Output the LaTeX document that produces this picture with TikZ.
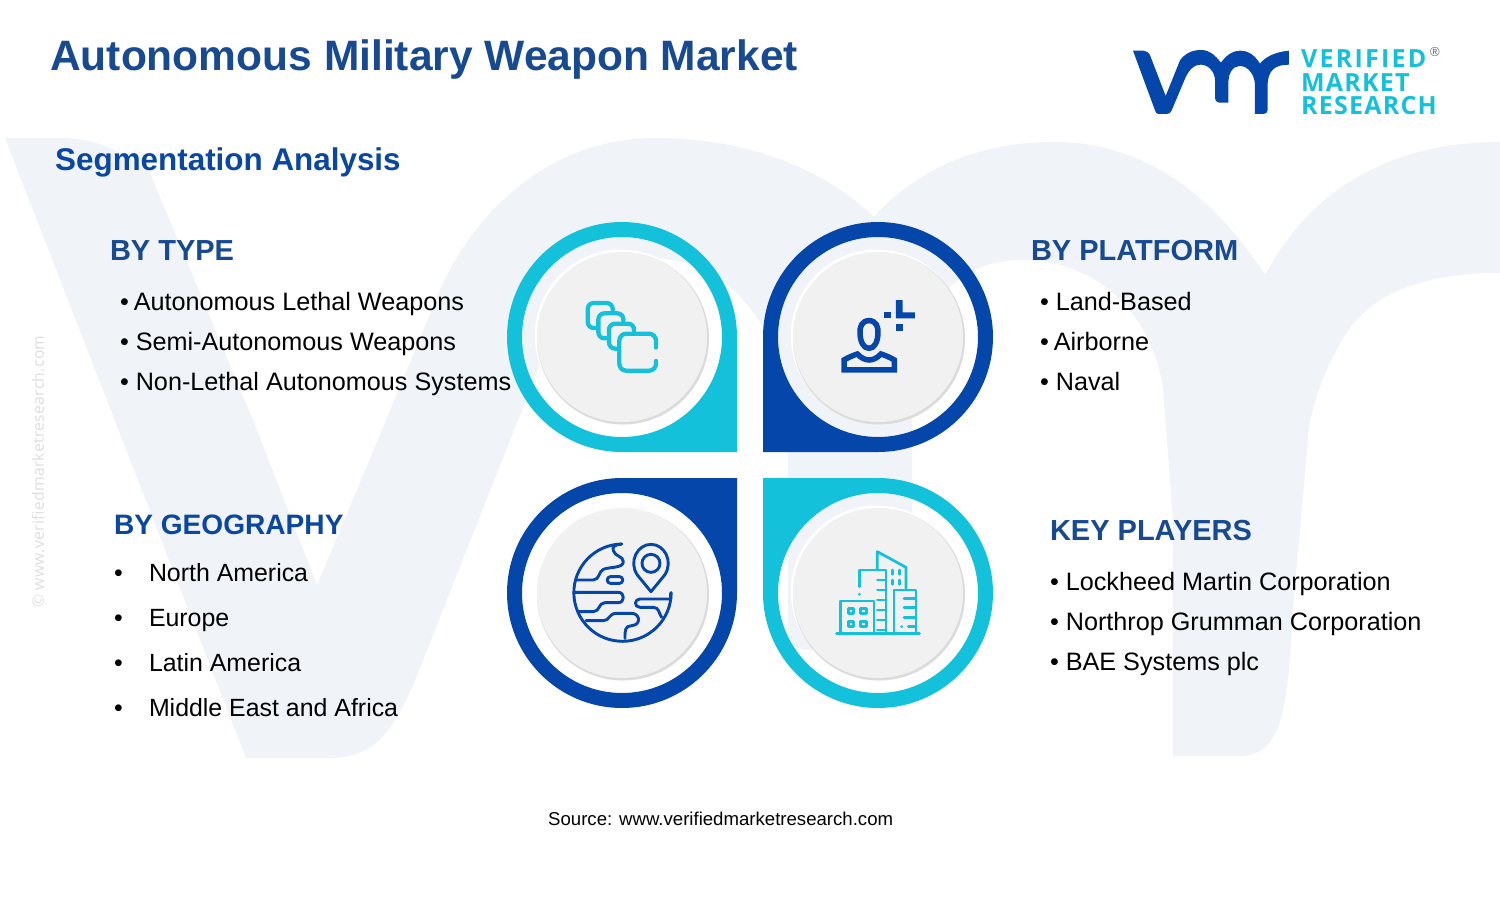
\documentclass[tikz,border=0pt]{standalone}
\usepackage{fontspec}
\setmainfont{Liberation Sans}
\newfontfamily\logofont[LetterSpace=5]{Open Sans}
\newfontfamily\logofontw[LetterSpace=9]{Open Sans}
\newfontfamily\sidefont[LetterSpace=2]{Open Sans}
\definecolor{wmark}{HTML}{F0F4F9}
\definecolor{vblue}{HTML}{0446AA}
\definecolor{vcyan}{HTML}{14C1DA}
\definecolor{tblue}{HTML}{174A91}
\definecolor{sblue}{HTML}{0A47A3}
\definecolor{discg}{HTML}{F1F1F1}
\newcommand{\fsz}[1]{\fontsize{#1}{#1}\selectfont}
\tikzset{
  lbl/.style={anchor=base west,inner sep=0pt,outer sep=0pt,text=black,font=\fsz{25.2}},
  lblg/.style={anchor=base west,inner sep=0pt,outer sep=0pt,text=black,font=\fsz{24.9}},
  head/.style={anchor=base west,inner sep=0pt,outer sep=0pt,text=tblue,font=\bfseries\fsz{29}},
  logotxt/.style={anchor=base west,inner sep=0pt,outer sep=0pt,text=vcyan,font=\logofont\bfseries\fsz{25}},
  iconline/.style={line width=#1,line cap=round,line join=round,fill=none},
  iconline/.default=2.7pt
}
\newcommand{\vmrlogo}{(24,26) -- (55,26) .. controls (65,26) and (72,32) .. (76,42) -- (122,162) -- (165,55)
  .. controls (180,35) and (200,24) .. (228,24) .. controls (255,24) and (270,40) .. (288,62)
  .. controls (305,38) and (325,26) .. (345,26) .. controls (370,26) and (390,40) .. (405,65)
  .. controls (420,45) and (450,30) .. (492,26) -- (492,68) .. controls (450,68) and (428,85) .. (428,130)
  -- (428,205) .. controls (428,212) and (422,216) .. (415,216) -- (390,216) -- (390,130)
  .. controls (390,100) and (370,72) .. (345,72) .. controls (325,72) and (310,90) .. (310,125)
  -- (310,182) -- (285,182) .. controls (275,182) and (270,175) .. (270,165) -- (270,115)
  .. controls (270,90) and (250,68) .. (228,68) .. controls (205,68) and (190,85) .. (178,115)
  -- (140,205) .. controls (137,212) and (133,216) .. (125,216) -- (100,216)
  .. controls (95,216) and (92,212) .. (90,205) -- cycle}
\newcommand{\graydisc}[2]{%
  \fill[white] (#1-1.2,#2-1.5) circle[radius=86];
  \fill[black!14] (#1+1,#2+1.5) circle[radius=86];
  \fill[discg] (#1,#2) circle[radius=85];}
\begin{document}
\begin{tikzpicture}[x=1pt,y=-1pt]
\useasboundingbox (0,0) rectangle (1500,911);
\fill[white] (0,0) rectangle (1500,911);
% watermark
\fill[wmark] (5,138) -- (60,138) .. controls (105,138) and (135,160) .. (150,173)
  -- (257,430) -- (317,585) -- (382,430) -- (440,290) .. controls (480,200) and (560,138) .. (654,138)
  .. controls (750,138) and (825,170) .. (874,217) .. controls (920,165) and (985,142) .. (1054,142)
  .. controls (1140,142) and (1210,190) .. (1265,275) .. controls (1310,190) and (1390,142) .. (1500,142)
  -- (1500,273) .. controls (1420,273) and (1370,295) .. (1345,335) .. controls (1320,375) and (1308,420) .. (1308,440)
  -- (1293,607) .. controls (1288,700) and (1285,756) .. (1240,756) -- (1173,756) -- (1173,520) -- (1163,387)
  .. controls (1150,310) and (1095,260) .. (1021,260) .. controls (955,260) and (912,310) .. (912,395)
  -- (912,630) .. controls (912,645) and (905,650) .. (895,650) -- (810,650) .. controls (795,650) and (788,645) .. (788,630)
  -- (788,420) .. controls (785,330) and (730,258) .. (650,258) .. controls (590,258) and (555,320) .. (537,372)
  -- (418,673) .. controls (395,730) and (375,758) .. (330,758) -- (246,758) -- cycle;
% side text
\node[rotate=90,inner sep=0pt,text=black!13,font=\sidefont\fsz{15.7}] (sidetext) at (38,471.5) {© www.verifiedmarketresearch.com};
% titles
\node[anchor=base west,inner sep=0pt,text=tblue,font=\bfseries\fsz{42.5}] (title) at (50,70) {Autonomous Military Weapon Market};
\node[anchor=base west,inner sep=0pt,text=sblue,font=\bfseries\fsz{31.4}] (seg) at (55,170) {Segmentation Analysis};
% logo
\begin{scope}[shift={(1125,42)},x=0.3333pt,y=-0.3333pt]
\fill[vblue] \vmrlogo;
\end{scope}
\node[logotxt,font=\logofontw\bfseries\fsz{25}] (lg1) at (1301,67) {VERIFIED};
\node[logotxt] (lg2) at (1301,91.5) {MARKET};
\node[logotxt] (lg3) at (1301,114.5) {RESEARCH};
\node[anchor=base west,inner sep=0pt,text=black!60,font=\fsz{13}] (lgr) at (1430,56) {®};
% pins
\fill[vcyan,even odd rule] (737,452) -- (622,452) arc[start angle=90,end angle=360,radius=115] -- cycle (622,337) circle[radius=100];
\fill[vblue,even odd rule] (763,452) -- (878,452) arc[start angle=90,end angle=-180,radius=115] -- cycle (878,337) circle[radius=100];
\fill[vblue,even odd rule] (737,478) -- (622,478) arc[start angle=270,end angle=0,radius=115] -- cycle (622,593) circle[radius=100];
\fill[vcyan,even odd rule] (763,478) -- (878,478) arc[start angle=-90,end angle=180,radius=115] -- cycle (878,593) circle[radius=100];
\graydisc{622}{337}
\graydisc{878}{337}
\graydisc{622}{593}
\graydisc{878}{593}
% icon 1: stacked squares
\begin{scope}[vcyan,iconline=4.3pt,rounded corners=6pt]
\foreach \k in {0,1,2}{
  \pgfmathsetmacro{\xa}{587.7+10.67*\k}
  \pgfmathsetmacro{\ya}{303+10.33*\k}
  \draw (\xa+9,\ya+25) -- (\xa,\ya+25) -- (\xa,\ya) -- (\xa+25,\ya) -- (\xa+25,\ya+7);
}
\draw[rounded corners=7pt] (656,347.5) -- (656,333.7) -- (619.3,333.7) -- (619.3,370.7) -- (656,370.7) -- (656,361);
\end{scope}
% icon 2: person
\begin{scope}[shift={(800,280)},x=0.3333pt,y=-0.3333pt]
\draw[vblue,iconline=5.5pt] (207,122) .. controls (185,122) and (179,140) .. (180,160) .. controls (181,185) and (190,205) .. (207,205) .. controls (224,205) and (233,185) .. (234,160) .. controls (235,140) and (229,122) .. (207,122) -- cycle;
\draw[vblue,iconline=5.5pt,line cap=butt,line join=miter] (132,270) -- (132,240) .. controls (145,232) and (160,226) .. (172,222) .. controls (195,246) and (220,246) .. (243,222) .. controls (255,226) and (270,232) .. (283,240) -- (283,270) -- cycle;
\fill[vblue] (288,60) -- (308,60) -- (308,97) -- (345,97) -- (345,115) -- (288,115) -- cycle;
\fill[vblue] (252,97) rectangle (272,115);
\fill[vblue] (288,133) rectangle (308,152);
\end{scope}
% icon 3: globe and pin
\begin{scope}[shift={(560,530)},x=0.3333pt,y=-0.3333pt]
\begin{scope}[vblue,iconline=2.9pt]
\draw (185,42) arc[start angle=-91,end angle=-270,radius=146] arc[start angle=90,end angle=0,radius=146] -- (332,190);
\draw (185,42) .. controls (165,44) and (155,50) .. (160,62) .. controls (165,80) and (190,78) .. (190,95) .. controls (190,115) and (150,110) .. (130,118) .. controls (115,125) and (120,148) .. (100,150) -- (48,150);
\draw[rounded corners=3pt] (142,140) rectangle (188,160);
\draw (42,187) -- (175,187) .. controls (195,187) and (195,218) .. (175,218) -- (135,218) .. controls (115,218) and (120,245) .. (100,245) -- (55,245);
\draw (78,272) -- (130,272) .. controls (150,272) and (145,250) .. (170,250) -- (215,250) .. controls (240,250) and (245,285) .. (215,287) .. controls (195,288) and (195,300) .. (195,325);
\draw (332,190) -- (332,207) -- (240,207) .. controls (222,207) and (222,232) .. (240,232) -- (280,232) .. controls (298,232) and (296,250) .. (305,262);
\draw (273,185) -- (232,135) .. controls (205,95) and (232,43) .. (273,43) .. controls (314,43) and (341,95) .. (314,135) -- cycle;
\draw (273,100) circle[radius=27];
\end{scope}
\end{scope}
% icon 4: buildings
\begin{scope}[shift={(820,535)},x=0.3333pt,y=-0.3333pt]
\begin{scope}[vcyan,iconline=2.7pt]
\draw[line width=3pt] (50,296) -- (298,296);
\draw (62,296) -- (62,198) -- (162,198) -- (162,296);
\draw (118,155) -- (118,105) -- (198,105) -- (198,296);
\draw (172,105) -- (172,50) -- (258,97) -- (258,160);
\draw (222,296) -- (222,165) -- (288,165) -- (288,296);
\foreach \y in {135,165,195,225,255,285} \draw (172,\y) -- (198,\y);
\foreach \y in {190,218,247} \draw (252,\y) -- (288,\y);
\draw (265,275) -- (288,275);
\foreach \x/\y in {92/228,130/228,92/268,130/268} \draw[line width=3pt] (\x-8,\y-8) rectangle (\x+8,\y+8);
\foreach \x in {218,238} {\draw (\x,105) -- (\x,118); \draw (\x,135) -- (\x,148);}
\fill (118,178) circle[radius=4.5];
\fill (245,275) circle[radius=4.5];
\end{scope}
\end{scope}
% text blocks
\node[head] (h1) at (110,260) {BY TYPE};
\node[lbl] (t1) at (120,310) {• \kern-2ptAutonomous Lethal Weapons};
\node[lbl] (t2) at (120,350) {• Semi-Autonomous Weapons};
\node[lbl] (t3) at (120,390) {• Non-Lethal Autonomous Systems};
\node[head] (h2) at (1031,260) {BY PLATFORM};
\node[lbl] (p1) at (1040,310) {• Land-Based};
\node[lbl] (p2) at (1040,350) {• \kern-2ptAirborne};
\node[lbl] (p3) at (1040,390) {• Naval};
\node[head,text=sblue,font=\bfseries\fsz{28.1}] (h3) at (114,534) {BY GEOGRAPHY};
\foreach \n/\y/\s in {a/581/North America,b/626/Europe,c/671/Latin America,d/716/Middle East and Africa}{
  \node[lblg] (gb\n) at (114,\y) {•};
  \node[lblg] (g\n) at (149,\y) {\s};
}
\node[head] (h4) at (1050,540) {KEY PLAYERS};
\node[lbl] (k1) at (1050,590) {• Lockheed Martin Corporation};
\node[lbl] (k2) at (1050,630) {• Northrop Grumman Corporation};
\node[lbl] (k3) at (1050,670) {• BAE Systems plc};
\node[anchor=base west,inner sep=0pt,text=black,font=\fsz{18.6}] (src) at (548,825) {Source: www.verifiedmarketresearch.com};
\end{tikzpicture}
\end{document}
